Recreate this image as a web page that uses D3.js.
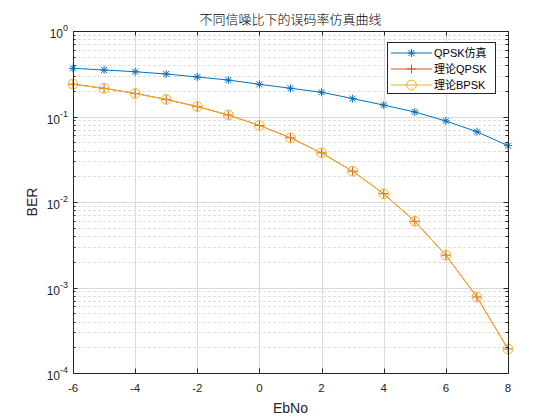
<!DOCTYPE html>
<html>
<head>
<meta charset="utf-8">
<script src="https://cdn.jsdelivr.net/npm/d3@7"></script>
<style>
  body { margin: 0; background: #fff; }
  text { font-family: "Liberation Sans", Arial, sans-serif; }
</style>
</head>
<body>
<div id="chart"></div>
<script>
// data
const ebno = [-6, -5, -4, -3, -2, -1, 0, 1, 2, 3, 4, 5, 6, 7, 8]
const qpskSim = [0.366, 0.350, 0.334, 0.314, 0.290, 0.267, 0.238, 0.214, 0.192, 0.162, 0.136, 0.113, 0.0886, 0.0664, 0.0455]
const qpskTheory = [0.2388, 0.2135, 0.1861, 0.1584, 0.1306, 0.1040, 0.0786, 0.0563, 0.0375, 0.0229, 0.0125, 0.00595, 0.00239, 0.000773, 0.000191]
const bpskTheory = [0.2388, 0.2135, 0.1861, 0.1584, 0.1306, 0.1040, 0.0786, 0.0563, 0.0375, 0.0229, 0.0125, 0.00595, 0.00239, 0.000773, 0.000191]
const xTicks = [-6, -4, -2, 0, 2, 4, 6, 8]
const yExponents = [0, -1, -2, -3, -4]
const seriesNames = ['QPSK仿真', '理论QPSK', '理论BPSK']

//**********************************************************************************************
//                                  CONSTANTS FOR CHART SIZE
//**********************************************************************************************
const WIDTH = 560
const HEIGHT = 420
const LEFT = 73
const RIGHT = 508
const TOP = 31
const BOTTOM = 373

const BLUE = '#0072BD'
const RED = '#D95319'
const YELLOW = '#EDB120'

const svg = d3.select('#chart').append('svg')
    .attr('width', WIDTH)
    .attr('height', HEIGHT)

const x = d3.scaleLinear().domain([-6, 8]).range([LEFT, RIGHT])
const y = d3.scaleLog().domain([1e-4, 1]).range([BOTTOM, TOP])

// grid
const grid = svg.append('g')
let minors = []
for (let e = -4; e < 0; e++) {
    for (let k = 2; k <= 9; k++) minors.push(k * Math.pow(10, e))
}
grid.selectAll('.minor').data(minors).join('line')
    .attr('x1', LEFT).attr('x2', RIGHT)
    .attr('y1', d => Math.round(y(d)) + 0.5).attr('y2', d => Math.round(y(d)) + 0.5)
    .attr('stroke', '#e0e0e0').attr('stroke-width', 1)
    .attr('stroke-dasharray', '3,2')

grid.selectAll('.hmajor').data(yExponents.slice(1, 4)).join('line')
    .attr('x1', LEFT).attr('x2', RIGHT)
    .attr('y1', d => Math.round(y(Math.pow(10, d))) + 0.5).attr('y2', d => Math.round(y(Math.pow(10, d))) + 0.5)
    .attr('stroke', '#dadada')

grid.selectAll('.vmajor').data(xTicks.slice(1, -1)).join('line')
    .attr('x1', d => Math.round(x(d)) + 0.5).attr('x2', d => Math.round(x(d)) + 0.5)
    .attr('y1', TOP).attr('y2', BOTTOM)
    .attr('stroke', '#dadada')

// series
const line = d3.line().x(d => x(d[0])).y(d => y(d[1]))

function drawSeries(vals, color, marker) {
    let pts = ebno.map((e, i) => [e, vals[i]])
    let g = svg.append('g')
    g.append('path').datum(pts)
        .attr('d', line)
        .attr('fill', 'none')
        .attr('stroke', color)
        .attr('stroke-width', 1)
    g.selectAll('path.m').data(pts).join('path')
        .attr('class', 'm')
        .attr('transform', d => `translate(${x(d[0])},${y(d[1])})`)
        .attr('d', marker)
        .attr('fill', 'none')
        .attr('stroke', color)
        .attr('stroke-width', 1)
}

const star = 'M-4,0H4M0,-4V4M-3,-3L3,3M-3,3L3,-3'
const plus = 'M-4.5,0H4.5M0,-4.5V4.5'
const circle = d3.symbol().type(d3.symbolCircle).size(75)()

drawSeries(qpskSim, BLUE, star)
drawSeries(qpskTheory, RED, plus)
drawSeries(bpskTheory, YELLOW, circle)

// axes box + ticks
const axes = svg.append('g').attr('stroke', '#262626').attr('fill', 'none')
axes.append('rect')
    .attr('x', LEFT + 0.5).attr('y', TOP + 0.5)
    .attr('width', RIGHT - LEFT).attr('height', BOTTOM - TOP)
    .attr('stroke-width', 1)

xTicks.forEach(t => {
    let px = Math.round(x(t)) + 0.5
    axes.append('line').attr('x1', px).attr('x2', px).attr('y1', BOTTOM).attr('y2', BOTTOM - 4.5)
    axes.append('line').attr('x1', px).attr('x2', px).attr('y1', TOP).attr('y2', TOP + 4.5)
})
yExponents.forEach(t => {
    let py = Math.round(y(Math.pow(10, t))) + 0.5
    axes.append('line').attr('x1', LEFT).attr('x2', LEFT + 4.5).attr('y1', py).attr('y2', py)
    axes.append('line').attr('x1', RIGHT).attr('x2', RIGHT - 4.5).attr('y1', py).attr('y2', py)
})
minors.forEach(t => {
    let py = Math.round(y(t)) + 0.5
    axes.append('line').attr('x1', LEFT).attr('x2', LEFT + 2.5).attr('y1', py).attr('y2', py)
    axes.append('line').attr('x1', RIGHT).attr('x2', RIGHT - 2.5).attr('y1', py).attr('y2', py)
})

// tick labels
svg.append('g').selectAll('text').data(xTicks).join('text')
    .attr('x', d => x(d))
    .attr('y', BOTTOM + 19)
    .attr('text-anchor', 'middle')
    .attr('font-size', 11.5)
    .attr('fill', '#262626')
    .text(d => d)

const ylab = svg.append('g').selectAll('text').data(yExponents).join('text')
    .attr('x', LEFT - 5)
    .attr('y', d => y(Math.pow(10, d)) + 7)
    .attr('text-anchor', 'end')
    .attr('font-size', 12)
    .attr('fill', '#262626')
ylab.append('tspan').text('10')
ylab.append('tspan').attr('dy', -7).attr('font-size', 9).text(d => d)

// axis labels + title
svg.append('text')
    .attr('x', (LEFT + RIGHT) / 2).attr('y', 413)
    .attr('text-anchor', 'middle').attr('font-size', 14).attr('fill', '#262626')
    .text('EbNo')

svg.append('text')
    .attr('transform', `translate(37,${(TOP + BOTTOM) / 2})rotate(-90)`)
    .attr('text-anchor', 'middle').attr('font-size', 14).attr('fill', '#262626')
    .text('BER')

svg.append('text')
    .attr('x', (LEFT + RIGHT) / 2).attr('y', 24)
    .attr('text-anchor', 'middle').attr('font-size', 13).attr('fill', '#000')
    .attr('font-weight', 300)
    .style('font-family', '"Noto Sans CJK SC", sans-serif')
    .text('不同信噪比下的误码率仿真曲线')

// legend
const legend = svg.append('g')
legend.append('rect')
    .attr('x', 387.5).attr('y', 42.5).attr('width', 108).attr('height', 51)
    .attr('fill', '#fff').attr('stroke', '#262626')

const legendColors = [BLUE, RED, YELLOW]
const legendMarkers = [star, plus, circle]
seriesNames.forEach((name, i) => {
    let ly = 53 + i * 16
    legend.append('line').attr('x1', 391).attr('x2', 432).attr('y1', ly).attr('y2', ly)
        .attr('stroke', legendColors[i])
    legend.append('path').attr('d', legendMarkers[i])
        .attr('transform', `translate(411.5,${ly})`)
        .attr('fill', 'none').attr('stroke', legendColors[i])
    legend.append('text')
        .attr('x', 434).attr('y', ly + 4)
        .attr('font-size', 11).attr('fill', '#000')
        .style('font-family', '"Liberation Sans", "Noto Sans CJK SC", sans-serif')
        .text(name)
})
</script>
</body>
</html>
